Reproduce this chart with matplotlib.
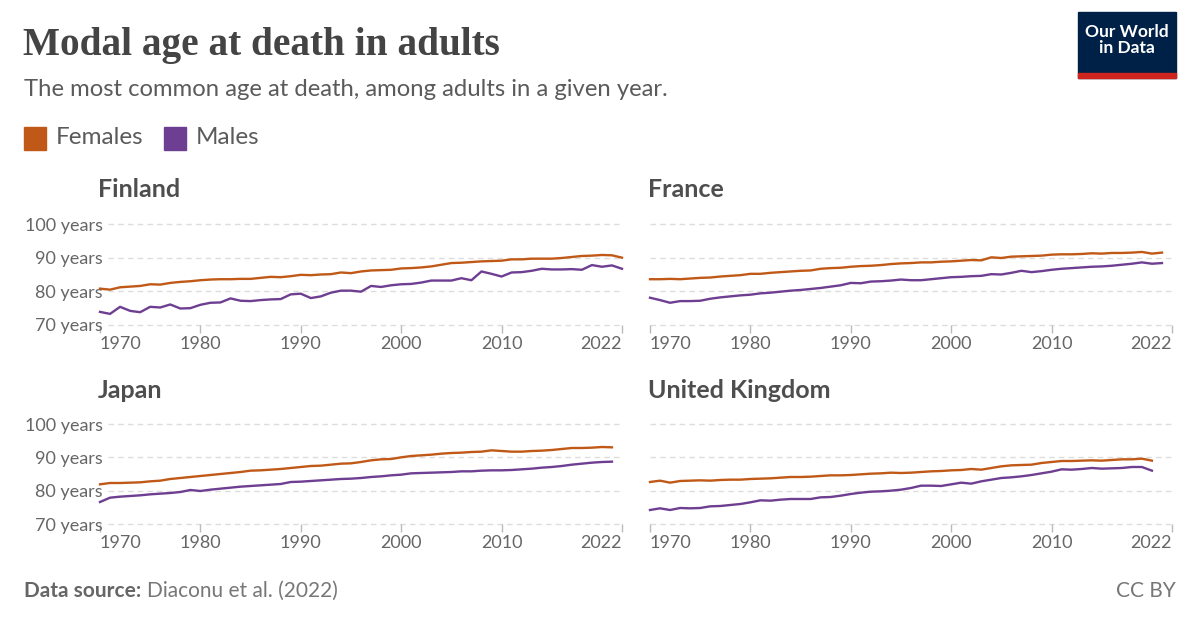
import matplotlib
matplotlib.use("Agg")
import matplotlib.pyplot as plt
from matplotlib.patches import Rectangle

plt.rcParams['font.family'] = ['Lato', 'DejaVu Sans']

# data
years = list(range(1970, 2023))

fin_f = [80.8, 80.5, 81.2, 81.4, 81.6, 82.1, 82.0, 82.5, 82.8, 83.0,
         83.3, 83.5, 83.6, 83.6, 83.7, 83.7, 84.0, 84.3, 84.2, 84.5,
         84.9, 84.8, 85.0, 85.1, 85.6, 85.4, 85.9, 86.2, 86.3, 86.4,
         86.8, 86.9, 87.1, 87.4, 87.9, 88.4, 88.5, 88.7, 88.9, 89.0,
         89.1, 89.5, 89.5, 89.7, 89.7, 89.7, 89.9, 90.2, 90.5, 90.6,
         90.8, 90.7, 90.0]
fin_m = [73.9, 73.3, 75.4, 74.2, 73.8, 75.4, 75.2, 76.1, 74.9, 75.0,
         76.0, 76.6, 76.7, 77.9, 77.2, 77.1, 77.4, 77.6, 77.7, 79.1,
         79.3, 78.0, 78.5, 79.6, 80.2, 80.2, 79.9, 81.6, 81.3, 81.8,
         82.1, 82.2, 82.6, 83.2, 83.2, 83.2, 83.9, 83.3, 85.9, 85.2,
         84.4, 85.6, 85.7, 86.1, 86.7, 86.5, 86.5, 86.6, 86.4, 87.8,
         87.3, 87.7, 86.7]

fra_years = list(range(1970, 2022))
fra_f = [83.6, 83.6, 83.7, 83.6, 83.8, 84.0, 84.1, 84.4, 84.6, 84.8,
         85.2, 85.2, 85.5, 85.7, 85.9, 86.1, 86.2, 86.7, 86.9, 87.0,
         87.3, 87.5, 87.6, 87.8, 88.1, 88.3, 88.4, 88.6, 88.6, 88.8,
         88.9, 89.1, 89.3, 89.2, 90.1, 89.9, 90.3, 90.4, 90.5, 90.6,
         90.9, 91.0, 91.0, 91.1, 91.3, 91.2, 91.4, 91.4, 91.5, 91.7,
         91.2, 91.5]
fra_m = [78.1, 77.4, 76.6, 77.1, 77.1, 77.2, 77.8, 78.2, 78.5, 78.8,
         79.0, 79.4, 79.6, 79.9, 80.2, 80.4, 80.7, 81.0, 81.4, 81.8,
         82.5, 82.4, 82.9, 83.0, 83.2, 83.5, 83.3, 83.3, 83.6, 83.9,
         84.2, 84.3, 84.5, 84.6, 85.1, 85.0, 85.5, 86.1, 85.7, 86.0,
         86.4, 86.7, 86.9, 87.1, 87.3, 87.4, 87.6, 87.9, 88.2, 88.6,
         88.2, 88.4]

jpn_years = list(range(1970, 2022))
jpn_f = [81.9, 82.3, 82.3, 82.4, 82.5, 82.8, 83.0, 83.5, 83.8, 84.1,
         84.4, 84.7, 85.0, 85.3, 85.6, 86.0, 86.1, 86.3, 86.5, 86.8,
         87.1, 87.4, 87.5, 87.8, 88.1, 88.2, 88.6, 89.1, 89.4, 89.5,
         90.0, 90.4, 90.6, 90.8, 91.1, 91.3, 91.4, 91.6, 91.7, 92.1,
         91.9, 91.7, 91.7, 91.9, 92.0, 92.2, 92.5, 92.8, 92.8, 92.9,
         93.1, 93.0]
jpn_m = [76.6, 77.9, 78.2, 78.4, 78.6, 78.9, 79.1, 79.3, 79.6, 80.2,
         79.9, 80.3, 80.6, 80.9, 81.2, 81.4, 81.6, 81.8, 82.0, 82.6,
         82.7, 82.9, 83.1, 83.3, 83.5, 83.6, 83.8, 84.1, 84.3, 84.6,
         84.8, 85.2, 85.3, 85.4, 85.5, 85.6, 85.8, 85.8, 86.0, 86.1,
         86.1, 86.2, 86.4, 86.6, 86.9, 87.1, 87.4, 87.8, 88.1, 88.4,
         88.6, 88.7]

uk_years = list(range(1970, 2021))
uk_f = [82.6, 83.0, 82.4, 82.9, 83.0, 83.1, 83.0, 83.2, 83.3, 83.3,
        83.5, 83.6, 83.7, 83.9, 84.1, 84.1, 84.2, 84.4, 84.6, 84.6,
        84.7, 84.9, 85.1, 85.2, 85.4, 85.3, 85.4, 85.6, 85.8, 85.9,
        86.1, 86.2, 86.5, 86.3, 86.8, 87.3, 87.6, 87.7, 87.8, 88.3,
        88.6, 88.9, 88.9, 89.0, 89.1, 89.0, 89.2, 89.4, 89.4, 89.6,
        89.0]
uk_m = [74.2, 74.7, 74.2, 74.8, 74.7, 74.8, 75.3, 75.4, 75.7, 76.0,
        76.5, 77.1, 77.0, 77.3, 77.5, 77.5, 77.5, 78.0, 78.1, 78.5,
        79.0, 79.4, 79.7, 79.8, 80.0, 80.3, 80.8, 81.5, 81.5, 81.4,
        81.9, 82.4, 82.1, 82.8, 83.3, 83.8, 84.0, 84.3, 84.7, 85.2,
        85.7, 86.4, 86.3, 86.5, 86.8, 86.6, 86.7, 86.8, 87.1, 87.1,
        86.0]

panels = [
    ("Finland", years, fin_f, fin_m),
    ("France", fra_years, fra_f, fra_m),
    ("Japan", jpn_years, jpn_f, jpn_m),
    ("United Kingdom", uk_years, uk_f, uk_m),
]
xticks = [1970, 1980, 1990, 2000, 2010, 2022]
yticks = [70, 80, 90, 100]
ytick_labels = ["70 years", "80 years", "90 years", "100 years"]

FEM = "#c05917"
MAL = "#6d3e91"
GRAY = "#5b5b5b"
W, H = 1200, 627

fig = plt.figure(figsize=(12, 6.27), dpi=100)

def fx(px):
    return px / W

def fy(py):
    return 1 - py / H

# header
fig.text(fx(23), fy(46), "Modal age at death in adults", family="Liberation Serif",
         weight="bold", fontsize=28.3, color="#444444", va="center")
fig.text(fx(24), fy(90), "The most common age at death, among adults in a given year.",
         fontsize=17.2, color=GRAY, va="center")

# legend
fig.patches.append(Rectangle((fx(24), fy(150)), fx(22), 23 / H, color=FEM,
                             transform=fig.transFigure))
fig.text(fx(56), fy(138), "Females", fontsize=17.5, color=GRAY, va="center")
fig.patches.append(Rectangle((fx(164), fy(150)), fx(22), 23 / H, color=MAL,
                             transform=fig.transFigure))
fig.text(fx(196), fy(138), "Males", fontsize=17.5, color=GRAY, va="center")

# logo
fig.patches.append(Rectangle((fx(1078), fy(78)), fx(98), 66 / H, color="#002147",
                             transform=fig.transFigure))
fig.patches.append(Rectangle((fx(1078), fy(78)), fx(98), 5 / H, color="#ce261e",
                             transform=fig.transFigure))
fig.text(fx(1127), fy(40), "Our World\nin Data", fontsize=12.5, color="white",
         ha="center", va="center", weight="bold", linespacing=1.0)

# footer
src = fig.text(fx(24), fy(591), "Data source:", fontsize=15, color="#666666",
               weight="bold", va="center")
rend = fig.canvas.get_renderer()
bb = src.get_window_extent(renderer=rend)
fig.text(bb.x1 / W + fx(6), fy(591), "Diaconu et al. (2022)", fontsize=15,
         color="#777777", va="center")
fig.text(fx(1176), fy(591), "CC BY", fontsize=15, color="#777777",
         ha="right", va="center")

# panel positions in pixels: left, right, top (100 line), bottom (70 line)
boxes = [(100, 622, 224, 325), (650, 1172, 224, 325),
         (100, 622, 424, 524), (650, 1172, 424, 524)]

for i, (name, yrs, f, m) in enumerate(panels):
    l, r, t, b = boxes[i]
    ax = fig.add_axes([fx(l), fy(b), fx(r - l), (b - t) / H])
    ax.set_xlim(1970, 2022)
    ax.set_ylim(70, 100)
    for s in ax.spines.values():
        s.set_visible(False)
    for yv in yticks:
        x0 = 0.016 if i % 2 == 0 else 0.0
        ax.axhline(yv, xmin=x0, xmax=1, color="#dddddd", lw=1,
                   ls=(0, (4, 3)), clip_on=False, zorder=0)
    ax.plot(yrs, f, color=FEM, lw=1.7, clip_on=False, zorder=3)
    ax.plot(yrs, m, color=MAL, lw=1.7, clip_on=False, zorder=3)
    ax.set_xticks(xticks)
    ax.set_xticklabels([str(x) for x in xticks])
    labs = ax.get_xticklabels()
    labs[0].set_ha("left")
    labs[-1].set_ha("right")
    ax.tick_params(axis="x", length=6, width=1, color="#bbbbbb",
                   labelsize=13, labelcolor="#666666", pad=2)
    ax.set_yticks(yticks)
    if i % 2 == 0:
        ax.set_yticklabels(ytick_labels)
        ax.tick_params(axis="y", length=0, labelsize=13,
                       labelcolor="#666666", pad=-2)
    else:
        ax.set_yticklabels([])
        ax.tick_params(axis="y", length=0)
    fig.text(fx(l - 2), fy(t - 34), name, fontsize=18, weight="bold",
             color="#4e4e4e", va="center")

fig.savefig("out.png", dpi=100, facecolor="white")
